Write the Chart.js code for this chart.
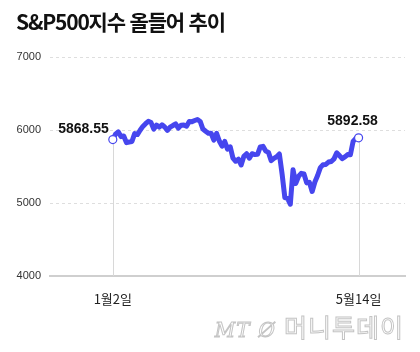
<!DOCTYPE html>
<html lang="ko">
<head>
  <meta charset="UTF-8" />
  <title>S&amp;P500지수 올들어 추이</title>
  <script src="https://cdn.jsdelivr.net/npm/chart.js"></script>
  <style>
    html, body { margin: 0; padding: 0; background: #fff; }
    .wrap { position: relative; width: 420px; height: 352px; overflow: hidden; }
    .title {
      position: absolute; left: 16px; top: 6px;
      font-family: "Noto Sans CJK KR", sans-serif; font-weight: 700;
      font-size: 21px; letter-spacing: -1.2px; color: #111; line-height: 30px;
    }
    .logo {
      position: absolute; right: 16px; top: 310px;
      font-family: "Noto Sans CJK KR", sans-serif; font-size: 25px; line-height: 32px;
      color: transparent; -webkit-text-stroke: 1px #c4c4c4; letter-spacing: 1px;
    }
    .logo i { font-family: "DejaVu Serif", serif; font-size: 20px; }
    canvas { position: absolute; left: 0; top: 0; }
  </style>
</head>
<body>
  <div class="wrap">
    <canvas id="spChart" width="420" height="352"></canvas>
    <div class="title">S&amp;P500지수 올들어 추이</div>
    <div class="logo"><i>MT</i> <i>Ø</i> 머니투데이</div>
  </div>

  <script>
    // 2025 trading days, Jan 2 - May 14
    const dates = [
      '1월2일','1월3일','1월6일','1월7일','1월8일','1월10일','1월13일','1월14일','1월15일','1월16일',
      '1월17일','1월21일','1월22일','1월23일','1월24일','1월27일','1월28일','1월29일','1월30일','1월31일',
      '2월3일','2월4일','2월5일','2월6일','2월7일','2월10일','2월11일','2월12일','2월13일','2월14일',
      '2월18일','2월19일','2월20일','2월21일','2월24일','2월25일','2월26일','2월27일','2월28일',
      '3월3일','3월4일','3월5일','3월6일','3월7일','3월10일','3월11일','3월12일','3월13일','3월14일',
      '3월17일','3월18일','3월19일','3월20일','3월21일','3월24일','3월25일','3월26일','3월27일','3월28일','3월31일',
      '4월1일','4월2일','4월3일','4월4일','4월7일','4월8일','4월9일','4월10일','4월11일','4월14일',
      '4월15일','4월16일','4월17일','4월21일','4월22일','4월23일','4월24일','4월25일','4월28일','4월29일','4월30일',
      '5월1일','5월2일','5월5일','5월6일','5월7일','5월8일','5월9일','5월12일','5월13일','5월14일'
    ];
    const closes = [
      5868.55, 5942.47, 5975.38, 5909.03, 5918.25, 5827.04, 5836.22, 5842.91, 5949.91, 5937.34,
      5996.66, 6049.24, 6086.37, 6118.71, 6101.24, 6012.28, 6067.70, 6039.31, 6071.17, 6040.53,
      5994.57, 6037.88, 6061.48, 6083.57, 6025.99, 6066.44, 6068.50, 6051.97, 6115.07, 6114.63,
      6129.58, 6144.15, 6117.52, 6013.13, 5983.25, 5955.25, 5956.06, 5861.57, 5954.50,
      5849.72, 5778.15, 5842.63, 5738.52, 5770.20, 5614.56, 5572.07, 5599.30, 5521.52, 5638.94,
      5675.12, 5614.66, 5675.29, 5662.89, 5667.56, 5767.57, 5776.65, 5712.20, 5693.31, 5580.94, 5611.85,
      5633.07, 5670.97, 5396.52, 5074.08, 5062.25, 4982.77, 5456.90, 5268.05, 5363.36, 5405.97,
      5396.63, 5275.70, 5282.70, 5158.20, 5287.76, 5375.86, 5484.77, 5525.21, 5528.75, 5560.83, 5569.06,
      5604.14, 5686.67, 5650.38, 5606.91, 5631.28, 5663.94, 5659.91, 5844.19, 5886.55, 5892.58
    ];
    const yTicks = [4000, 5000, 6000, 7000];
    const xTickIdx = [0, closes.length - 1];

    const lineColor = '#4646ee';
    const last = closes.length - 1;

    // drop lines under the end points + value labels
    const endMarks = {
      id: 'endMarks',
      beforeDatasetsDraw(chart) {
        const ctx = chart.ctx;
        const pts = chart.getDatasetMeta(0).data;
        const bottom = chart.chartArea.bottom;
        ctx.save();
        ctx.strokeStyle = '#d8d8d8';
        ctx.lineWidth = 1;
        xTickIdx.forEach(i => {
          const p = pts[i];
          ctx.beginPath();
          ctx.moveTo(Math.round(p.x) + 0.5, p.y);
          ctx.lineTo(Math.round(p.x) + 0.5, bottom);
          ctx.stroke();
        });
        ctx.restore();
      },
      afterDatasetsDraw(chart) {
        const ctx = chart.ctx;
        const pts = chart.getDatasetMeta(0).data;
        ctx.save();
        ctx.fillStyle = '#111';
        ctx.font = 'bold 14px "Liberation Sans", Arial, sans-serif';
        ctx.textBaseline = 'middle';
        ctx.textAlign = 'right';
        ctx.fillText(closes[0].toFixed(2), pts[0].x - 4, pts[0].y - 10);
        ctx.textAlign = 'center';
        ctx.fillText(closes[last].toFixed(2), pts[last].x - 6, pts[last].y - 17);
        ctx.restore();
      }
    };

    new Chart(document.getElementById('spChart'), {
      type: 'line',
      data: {
        datasets: [{
          data: closes.map((v, i) => ({ x: i, y: v })),
          borderColor: lineColor,
          borderWidth: 5,
          tension: 0,
          borderJoinStyle: 'round',
          borderCapStyle: 'round',
          pointRadius: c => (c.dataIndex === 0 || c.dataIndex === last) ? 4 : 0,
          pointBackgroundColor: '#fff',
          pointBorderColor: lineColor,
          pointBorderWidth: 1.2
        }]
      },
      options: {
        responsive: false,
        animation: false,
        layout: { padding: { top: 57, right: 15, bottom: 46, left: 0 } },
        plugins: { legend: { display: false }, tooltip: { enabled: false } },
        scales: {
          x: {
            type: 'linear',
            min: -23,
            max: 107,
            afterBuildTicks: s => { s.ticks = xTickIdx.map(v => ({ value: v })); },
            afterFit: s => { s.height = 30; },
            grid: { display: false },
            border: { display: true, color: '#cfcfcf', width: 2 },
            ticks: {
              callback: v => dates[v],
              color: '#222',
              padding: 7,
              maxRotation: 0,
              autoSkip: false,
              font: { family: '"Noto Sans CJK KR", sans-serif', size: 13 }
            }
          },
          y: {
            min: 4000,
            max: 7000,
            afterBuildTicks: s => { s.ticks = yTicks.map(v => ({ value: v })); },
            afterFit: s => { s.width = 50; },
            grid: { color: '#dedede', lineWidth: 1, drawTicks: false },
            border: { display: false, dash: [3, 3] },
            ticks: {
              color: '#333',
              padding: 9,
              font: { family: '"Liberation Sans", Arial, sans-serif', size: 11 },
              callback: v => String(v)
            }
          }
        }
      },
      plugins: [endMarks]
    });
  </script>
</body>
</html>
